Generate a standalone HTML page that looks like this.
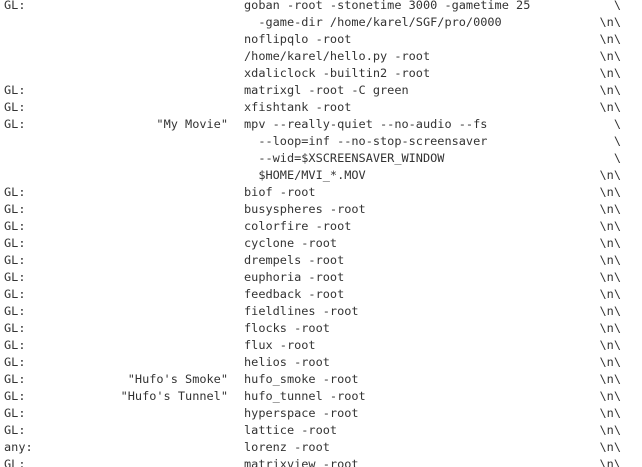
<!DOCTYPE html>
<html><head><meta charset="utf-8"><style>
html,body{margin:0;padding:0;background:#fff;width:642px;height:467px;overflow:hidden;}
body{position:relative;font-family:"DejaVu Sans Mono","Liberation Mono",monospace;font-size:11.9px;color:#333;}
.r{position:absolute;left:0;width:642px;height:17px;line-height:17px;white-space:pre;}
.a{position:absolute;left:4px;}
.n{position:absolute;right:414px;}
.c{position:absolute;left:244px;}
.e{position:absolute;right:21px;}
</style></head><body>
<script>
const L=[
["GL:","","goban -root -stonetime 3000 -gametime 25","\\"],
["","","  -game-dir /home/karel/SGF/pro/0000","\\n\\"],
["","","noflipqlo -root","\\n\\"],
["","","/home/karel/hello.py -root","\\n\\"],
["","","xdaliclock -builtin2 -root","\\n\\"],
["GL:","","matrixgl -root -C green","\\n\\"],
["GL:","","xfishtank -root","\\n\\"],
["GL:","\"My Movie\"","mpv --really-quiet --no-audio --fs","\\"],
["","","  --loop=inf --no-stop-screensaver","\\"],
["","","  --wid=$XSCREENSAVER_WINDOW","\\"],
["","","  $HOME/MVI_*.MOV","\\n\\"],
["GL:","","biof -root","\\n\\"],
["GL:","","busyspheres -root","\\n\\"],
["GL:","","colorfire -root","\\n\\"],
["GL:","","cyclone -root","\\n\\"],
["GL:","","drempels -root","\\n\\"],
["GL:","","euphoria -root","\\n\\"],
["GL:","","feedback -root","\\n\\"],
["GL:","","fieldlines -root","\\n\\"],
["GL:","","flocks -root","\\n\\"],
["GL:","","flux -root","\\n\\"],
["GL:","","helios -root","\\n\\"],
["GL:","\"Hufo's Smoke\"","hufo_smoke -root","\\n\\"],
["GL:","\"Hufo's Tunnel\"","hufo_tunnel -root","\\n\\"],
["GL:","","hyperspace -root","\\n\\"],
["GL:","","lattice -root","\\n\\"],
["any:","","lorenz -root","\\n\\"],
["GL:","","matrixview -root","\\n\\"]
];
const esc=s=>s.replace(/&/g,"&amp;").replace(/</g,"&lt;");
let h="";
L.forEach((l,i)=>{
h+=`<div class="r" style="top:${-3.5+i*17}px"><span class="a">${esc(l[0])}</span><span class="n">${esc(l[1])}</span><span class="c">${esc(l[2])}</span><span class="e">${esc(l[3])}</span></div>`;
});
document.write(h);
</script>
</body></html>
